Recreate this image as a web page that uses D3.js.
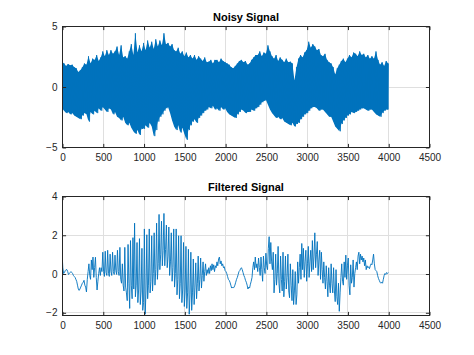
<!DOCTYPE html>
<html>
<head>
<meta charset="utf-8">
<script src="https://cdn.jsdelivr.net/npm/d3@7"></script>
<style>
  html, body { margin: 0; padding: 0; background: #fff; }
  svg { display: block; }
  text { font-family: "Liberation Sans", Arial, Helvetica, sans-serif; }
</style>
</head>
<body>
<svg id="chart" width="474" height="355"></svg>
<script>
// ---------------- data ----------------
const titles = ["Noisy Signal", "Filtered Signal"];
const xTicks = [0, 500, 1000, 1500, 2000, 2500, 3000, 3500, 4000, 4500];
const xDomain = [0, 4500];
const noisyYTicks = [-5, 0, 5];
const noisyYDomain = [-5, 5];
const filteredYTicks = [-2, 0, 2, 4];
const filteredYDomain = [-2.14, 4];

// noisy signal: upper / lower excursions read every 25 samples (0..4000)
const noisyStep = 25;
const noisyHi = [
  2.05, 1.9, 1.7, 1.85,   1.75, 1.8, 1.6, 1.5,   1.2, 1.35, 1.6, 1.9,   1.8, 2.5, 1.9, 2.3,
  2.2, 2.6, 2.1, 2.4,     2.9, 2.5, 3.0, 2.6,    3.0, 2.7, 2.9, 3.3,    2.6, 3.4, 2.4, 2.5,
  2.3, 2.9, 3.5, 2.6,     4.4, 2.8, 3.4, 2.9,    3.6, 3.0, 3.8, 3.2,    3.7, 3.1, 3.9, 3.3,
  3.8, 3.4, 4.4, 3.5,     3.6, 3.3, 3.5, 3.0,    2.9, 3.2, 2.7, 2.9,    2.5, 2.8, 2.4, 2.6,
  2.3, 2.6, 2.2, 2.5,     2.3, 2.1, 2.4, 2.0,    2.05, 2.2, 1.9, 2.2,   2.2, 2.0, 2.3, 2.1,
  2.0, 1.9, 1.8, 1.6,     1.5, 1.7, 1.9, 2.1,    2.2, 2.0, 2.1, 1.8,    1.9, 2.2, 2.4, 2.6,
  2.6, 2.9, 2.5, 2.8,     2.7, 3.4, 2.9, 2.5,    2.3, 2.6, 2.1, 2.4,    2.2, 2.0, 2.3, 2.0,
  2.05, 1.9, 0.5, 1.6,    2.3, 2.6, 2.4, 2.8,    3.0, 3.7, 3.2, 3.5,    3.3, 3.0, 3.1, 2.6,
  2.5, 2.7, 2.2, 2.0,     1.9, 1.6, 1.0, 1.5,    1.8, 2.1, 2.3, 2.0,    2.3, 2.6, 2.4, 2.8,
  2.7, 2.5, 2.9, 2.6,     2.7, 2.4, 2.6, 2.3,    2.5, 2.3, 2.9, 2.2,    1.8, 2.0, 1.7, 2.1,
  1.9
];
const noisyLo = [
  -1.8, -2.0, -2.2, -2.1,  -2.3, -2.2, -2.4, -2.5,  -2.6, -2.7, -2.4, -2.2,  -2.3, -2.9, -2.1, -2.3,
  -2.0, -2.2, -1.8, -2.0,  -1.7, -1.9, -2.1, -1.8,  -1.9, -2.3, -2.1, -2.5,  -2.6, -2.8, -2.5, -3.0,
  -3.2, -3.0, -3.4, -3.7,  -3.9, -3.6, -4.0, -3.5,  -3.5, -3.2, -3.4, -3.0,  -3.3, -4.1, -3.6, -2.9,
  -2.5, -2.3, -2.0, -1.8,  -1.7, -2.2, -2.8, -3.3,  -3.6, -3.2, -3.8, -3.4,  -3.9, -4.4, -3.6, -3.2,
  -2.9, -2.7, -3.0, -2.6,  -2.4, -2.2, -2.0, -1.9,  -1.7, -1.8, -1.6, -1.9,  -1.8, -2.0, -1.7, -1.9,
  -1.8, -2.1, -2.3, -2.4,  -2.5, -2.6, -2.3, -2.1,  -1.9, -2.0, -2.2, -2.1,  -2.1, -1.9, -2.0, -1.8,
  -1.7, -1.5, -1.3, -1.2,  -1.1, -1.5, -1.9, -2.2,  -2.4, -2.6, -2.5, -2.7,  -2.6, -2.9, -3.0, -3.1,
  -3.2, -3.0, -3.3, -3.1,  -3.0, -2.7, -2.5, -2.3,  -2.2, -2.0, -1.8, -1.7,  -1.7, -1.8, -2.0, -1.9,
  -1.9, -2.1, -2.3, -2.5,  -2.5, -2.9, -3.3, -3.5,  -3.7, -3.1, -2.8, -2.6,  -2.4, -2.3, -2.1, -2.2,
  -2.1, -2.0, -1.9, -1.8,  -1.8, -1.9, -2.0, -1.9,  -1.9, -2.1, -2.3, -2.4,  -2.5, -2.2, -2.0, -1.9,
  -1.9
];

// filtered signal: values read every 10 samples (0..4000), one row per 100 samples
const filteredStep = 10;
const filtered = [
  1.1, 0.3, 0.0, 0.05, 0.15, 0.2, 0.2, 0.1, -0.05, 0.0,
  0.05, 0.1, 0.05, 0.0, -0.1, -0.15, -0.2, -0.3, -0.4, -0.6,
  -0.8, -0.87, -0.8, -0.7, -0.6, -0.5, -0.45, -0.35, -0.6, -0.7,
  -0.95, -0.3, 0.1, 0.5, -0.1, -0.3, 0.7, 0.2, 0.85, -0.2,
  0.3, 0.84, -0.2, -0.85, -0.4, 0.0, 0.3, -0.1, 0.3, 0.1,
  1.1, 0.1, -0.15, 1.15, 0.05, -0.1, 1.2, 0.0, -0.15, 1.0,
  0.1, -0.1, 1.1, 0.1, -0.05, 0.95, 0.15, -0.05, 1.2, 0.1,
  -0.1, 1.35, -0.3, -0.5, 0.5, -0.6, -0.9, 1.35, -0.7, -1.0,
  -1.4, 1.5, -0.5, -1.8, 1.7, -0.6, -1.3, 1.85, -0.8, 2.6,
  -1.2, -0.6, 1.6, -1.5, -0.8, 1.8, -1.6, -0.9, 1.3, -1.9,
  -1.5, 2.3, -2.1, -0.9, 2.0, -1.3, -0.6, 2.3, -1.0, -0.4,
  1.95, -0.9, 0.0, 2.1, -0.6, 0.2, 2.6, -0.3, 0.5, 3.05,
  0.2, 1.0, 2.7, 0.4, 1.2, 3.1, 0.4, 1.25, 2.5, 0.3,
  0.9, 2.4, -0.1, 0.6, 2.1, -0.4, 0.3, 2.3, -0.7, 0.0,
  2.3, -1.1, -0.3, 1.95, -1.3, -0.5, 1.95, -1.5, -0.8, 1.6,
  -1.7, -0.9, 1.4, -1.8, -1.0, 1.25, -2.1, -1.1, 1.1, -1.9,
  -1.0, 0.75, -1.6, -0.7, 0.55, -1.3, -0.5, 0.9, -0.9, -0.3,
  0.8, -0.75, -0.1, 0.6, -0.4, 0.1, 0.5, -0.1, 0.2, 0.0,
  0.3, 0.0, 0.4, 0.15, 0.5, 0.2, 0.45, 0.1, 0.4, 0.3,
  0.6, 0.4, 0.75, 0.85, 0.5, 0.65, 0.4, 0.5, 0.3, 0.35,
  0.15, 0.1, 0.0, -0.15, -0.3, -0.35, -0.45, -0.6, -0.75, -0.7,
  -0.75, -0.7, -0.6, -0.45, -0.3, -0.2, -0.05, 0.1, 0.15, 0.25,
  0.3, 0.2, 0.05, -0.1, -0.2, -0.35, -0.45, -0.6, -0.8, -0.7,
  -0.75, -0.55, -0.4, -0.2, 0.3, 0.6, 0.2, 0.85, 0.3, 0.5,
  0.1, 0.8, 0.3, -0.1, 0.85, 0.2, -0.4, 0.9, 0.3, 0.0,
  1.05, 0.4, 0.2, 1.3, 1.9, 0.5, 1.6, 0.6, 0.2, 1.1,
  -1.0, -0.3, 1.0, -0.6, 0.0, 1.4, -0.5, -1.0, 0.9, -0.3,
  -0.9, 1.1, -1.2, -0.4, 0.9, -0.8, -0.2, 1.0, -0.9, -1.25,
  0.5, -0.6, -1.4, 0.2, -1.6, -0.9, 0.1, -1.6, -1.1, 0.6,
  -0.5, 0.3, 1.0, -0.3, 1.55, 0.2, 1.3, -0.2, 0.6, 1.2,
  -0.4, 0.5, 1.4, -0.2, 0.6, 1.2, 0.1, 1.7, 0.2, 0.9,
  2.1, 0.3, 1.0, 1.65, -0.1, 0.7, 1.2, -0.3, 1.1, 0.2,
  -0.5, 0.6, -0.2, -0.8, 0.4, -0.4, -1.2, 0.3, -0.6, -1.0,
  0.5, -0.5, -1.0, 0.3, -0.9, -1.45, 0.2, -1.2, -1.6, -0.5,
  -1.95, -1.0, -0.2, 0.5, -0.4, -0.6, 0.6, -0.2, 0.95, -0.3,
  0.4, 0.8, -0.6, -1.1, 0.45, -0.5, -0.2, 0.7, -0.7, 0.0,
  0.3, 0.6, 0.2, 0.9, 1.1, 0.5, 1.0, 0.7, 0.9, 0.6,
  0.8, 0.4, 0.7, 0.2, 0.4, 0.3, 0.35, 0.25, 0.4, 0.5,
  0.45, 0.7, 1.0, 0.5, 0.2, 0.15, 0.1, -0.1, -0.25, -0.35,
  -0.45, -0.5, -0.45, -0.5, -0.3, -0.1, 0.0, -0.05, 0.05, 0.0,
  0.05
];

// ---------------- drawing ----------------
const svg = d3.select("#chart");
svg.append("rect").attr("width", 474).attr("height", 355).attr("fill", "#fff");

const axColor = "#262626";
const gridColor = "#dfdfdf";
const lineColor = "#0072BD";
const left = 62, right = 429;

const noisyPts = [];
noisyHi.forEach((v, i) => {
  noisyPts.push([i * noisyStep, v]);
  noisyPts.push([Math.min(i * noisyStep + noisyStep / 2, 4000), noisyLo[i]]);
});
const filteredPts = filtered.map((v, i) => [i * filteredStep, v]);

const panels = [
  { title: titles[0], top: 26, bottom: 147, yDomain: noisyYDomain, yTicks: noisyYTicks,
    pts: noisyPts, width: 0.8, titleY: 21, band: true },
  { title: titles[1], top: 196, bottom: 315, yDomain: filteredYDomain, yTicks: filteredYTicks,
    pts: filteredPts, width: 0.9, titleY: 191, band: false }
];

panels.forEach((p, idx) => {
  const x = d3.scaleLinear().domain(xDomain).range([left, right]);
  const y = d3.scaleLinear().domain(p.yDomain).range([p.bottom, p.top]);
  const g = svg.append("g");

  // grid
  g.selectAll(".gx").data(xTicks).join("line")
    .attr("x1", d => Math.round(x(d)) + 0.5).attr("x2", d => Math.round(x(d)) + 0.5)
    .attr("y1", p.top).attr("y2", p.bottom)
    .attr("stroke", gridColor).attr("stroke-width", 1);
  g.selectAll(".gy").data(p.yTicks).join("line")
    .attr("x1", left).attr("x2", right)
    .attr("y1", d => Math.round(y(d)) + 0.5).attr("y2", d => Math.round(y(d)) + 0.5)
    .attr("stroke", gridColor).attr("stroke-width", 1);

  // clip
  const cid = "clip" + idx;
  svg.append("clipPath").attr("id", cid).append("rect")
    .attr("x", left).attr("y", p.top).attr("width", right - left).attr("height", p.bottom - p.top);

  // dense noise band (between the read upper and lower excursions)
  if (p.band) {
    g.append("path")
      .datum(noisyHi.map((v, i) => ({ s: i * noisyStep, hi: v, lo: noisyLo[i] })))
      .attr("clip-path", `url(#${cid})`)
      .attr("fill", lineColor)
      .attr("d", d3.area().x(d => x(d.s)).y0(d => y(d.lo)).y1(d => y(d.hi)));
  }

  // data line
  g.append("path")
    .datum(p.pts)
    .attr("clip-path", `url(#${cid})`)
    .attr("fill", "none")
    .attr("stroke", lineColor)
    .attr("stroke-width", p.width)
    .attr("stroke-linejoin", "round")
    .attr("d", d3.line().x(d => x(d[0])).y(d => y(d[1])));

  // axes
  const tk = 3.6;
  const styleAxis = sel => {
    sel.select(".domain").remove();
    sel.selectAll(".tick line").attr("stroke", axColor).attr("stroke-width", 1);
    sel.selectAll("text").attr("fill", axColor).style("font-size", "10px")
      .style("font-family", '"Liberation Sans", Arial, sans-serif');
  };
  g.append("g").attr("transform", `translate(0.5,${p.bottom + 0.5})`)
    .call(d3.axisBottom(x).tickValues(xTicks).tickFormat(d3.format("d"))
      .tickSizeInner(-tk).tickSizeOuter(0).tickPadding(6))
    .call(styleAxis);
  g.append("g").attr("transform", `translate(0.5,${p.top + 0.5})`)
    .call(d3.axisTop(x).tickValues(xTicks).tickFormat("")
      .tickSizeInner(-tk).tickSizeOuter(0))
    .call(styleAxis);
  g.append("g").attr("transform", `translate(${left + 0.5},0.5)`)
    .call(d3.axisLeft(y).tickValues(p.yTicks).tickFormat(d3.format("d"))
      .tickSizeInner(-tk).tickSizeOuter(0).tickPadding(5))
    .call(styleAxis);
  g.append("g").attr("transform", `translate(${right + 0.5},0.5)`)
    .call(d3.axisRight(y).tickValues(p.yTicks).tickFormat("")
      .tickSizeInner(-tk).tickSizeOuter(0))
    .call(styleAxis);

  // box
  g.append("rect")
    .attr("x", left + 0.5).attr("y", p.top + 0.5)
    .attr("width", right - left).attr("height", p.bottom - p.top)
    .attr("fill", "none").attr("stroke", axColor).attr("stroke-width", 1);

  // title
  svg.append("text")
    .attr("x", (left + right) / 2 + 0.5).attr("y", p.titleY)
    .attr("text-anchor", "middle")
    .attr("fill", "#000")
    .style("font-size", "11px").style("font-weight", "bold")
    .text(p.title);
});
</script>
</body>
</html>
